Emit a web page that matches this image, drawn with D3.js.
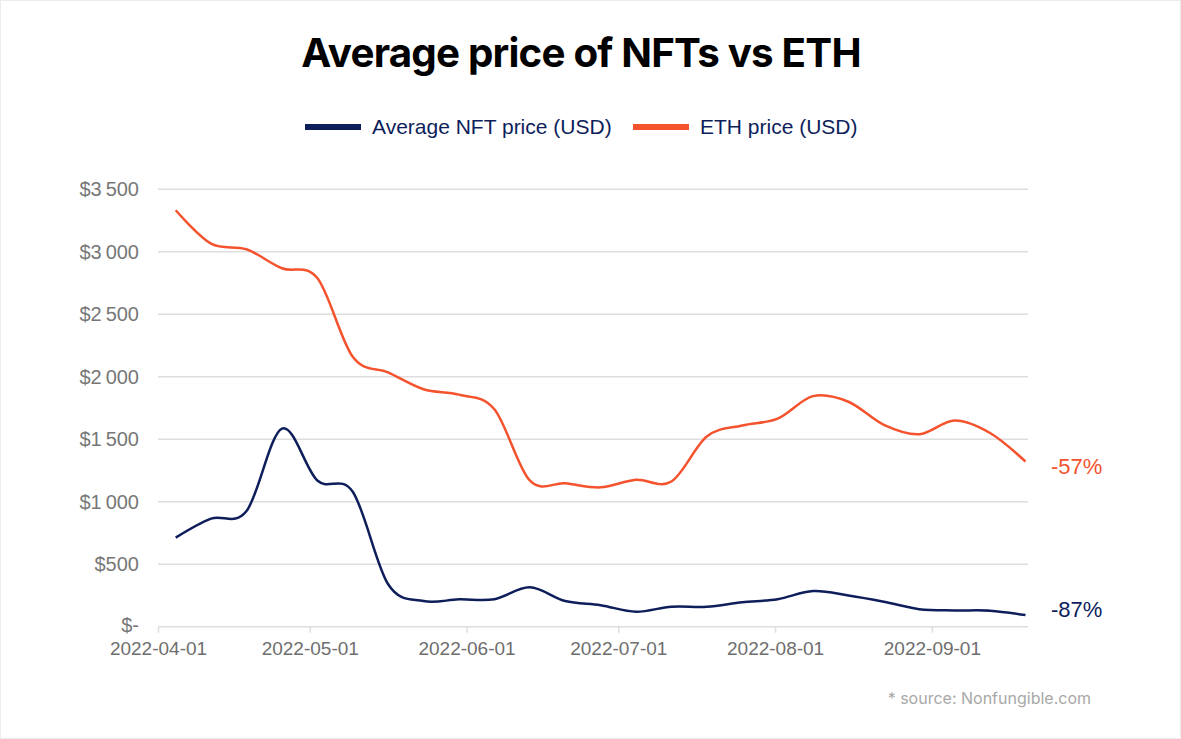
<!DOCTYPE html>
<html>
<head>
<meta charset="utf-8">
<script src="https://cdn.jsdelivr.net/npm/d3@7"></script>
<style>
  body { margin: 0; background: #fff; }
  svg { display: block; font-family: "Liberation Sans", Arial, sans-serif; }
</style>
</head>
<body>
<svg id="chart" width="1181" height="739"></svg>
<script>
// weekly data points
const dates = ["2022-04-04", "2022-04-11", "2022-04-18", "2022-04-25", "2022-05-02", "2022-05-09",
    "2022-05-16", "2022-05-23", "2022-05-30", "2022-06-06", "2022-06-13", "2022-06-20", "2022-06-27",
    "2022-07-04", "2022-07-11", "2022-07-18", "2022-07-25", "2022-08-01", "2022-08-08", "2022-08-15",
    "2022-08-22", "2022-08-29", "2022-09-05", "2022-09-12", "2022-09-19"];
const nftPrice = [713, 865, 925, 1585, 1170, 1080, 340, 205, 219, 220, 315, 205, 172,
    120, 160, 160, 195, 220, 285, 250, 200, 140, 130, 128, 93];
const ethPrice = [3332, 3065, 3020, 2868, 2790, 2160, 2035, 1900, 1857, 1740, 1170, 1147, 1115,
    1175, 1162, 1522, 1610, 1665, 1845, 1800, 1615, 1540, 1650, 1550, 1322];
const seriesNames = ["Average NFT price (USD)", "ETH price (USD)"];
const endLabels = ["-87%", "-57%"];
const yTicks = [0, 500, 1000, 1500, 2000, 2500, 3000, 3500];
const xTicks = ["2022-04-01", "2022-05-01", "2022-06-01", "2022-07-01", "2022-08-01", "2022-09-01"];

const colors = ["#0d1e5b", "#f4532e"];
const parse = d3.utcParse("%Y-%m-%d");
const fmtDate = d3.utcFormat("%Y-%m-%d");

const svg = d3.select("#chart");
const margin = {left: 158, right: 1028, top: 189.3, bottom: 626.7};

// border
svg.append("rect")
    .attr("x", 0.5).attr("y", 0.5)
    .attr("width", 1180).attr("height", 738)
    .attr("fill", "none")
    .attr("stroke", "#ececec");

// x: day slots, points sit in the middle of their day
const x = d3.scaleUtc()
    .domain([parse("2022-04-01"), parse("2022-09-20")])
    .range([margin.left, margin.right]);
const y = d3.scaleLinear()
    .domain([0, 3500])
    .range([margin.bottom, margin.top]);

const fmtMoney = v => v === 0 ? "$-" : "$" + d3.format(",")(v).replace(",", "\u2009");

// gridlines
svg.append("g")
    .selectAll("line")
    .data(yTicks)
    .join("line")
    .attr("x1", margin.left)
    .attr("x2", margin.right)
    .attr("y1", d => y(d))
    .attr("y2", d => y(d))
    .attr("stroke", "#dedede")
    .attr("stroke-width", 1.5);

// y labels
svg.append("g")
    .selectAll("text")
    .data(yTicks)
    .join("text")
    .attr("x", 139)
    .attr("y", d => y(d) - (d === 0 ? 2 : 0))
    .attr("dy", "0.35em")
    .attr("text-anchor", "end")
    .attr("font-size", 20)
    .attr("fill", "#777")
    .text(fmtMoney);

// x axis ticks + labels
const xAxis = d3.axisBottom(x)
    .tickValues(xTicks.map(parse))
    .tickSize(6)
    .tickPadding(9)
    .tickFormat(fmtDate);

const gx = svg.append("g")
    .attr("transform", `translate(0,${margin.bottom})`)
    .call(xAxis);
gx.select(".domain").remove();
gx.selectAll(".tick line").attr("stroke", "#dedede").attr("stroke-width", 1.5);
gx.selectAll(".tick text")
    .attr("font-size", 19)
    .attr("font-family", "'Liberation Sans', Arial, sans-serif")
    .attr("fill", "#6e6e6e");

// lines
const line = d3.line()
    .x((d, i) => x(d3.utcHour.offset(parse(dates[i]), 12)))
    .y(d => y(d))
    .curve(d3.curveCatmullRom.alpha(0));

[ethPrice, nftPrice].forEach(s => {
    const c = s === nftPrice ? colors[0] : colors[1];
    svg.append("path")
        .datum(s)
        .attr("d", line)
        .attr("fill", "none")
        .attr("stroke", c)
        .attr("stroke-width", 2.5)
        .attr("stroke-linejoin", "round");
});

// end labels
[nftPrice, ethPrice].forEach((s, k) => {
    svg.append("text")
        .attr("x", 1051)
        .attr("y", y(s[s.length - 1]) + (k === 0 ? -6 : 5))
        .attr("dy", "0.35em")
        .attr("font-size", 22)
        .attr("fill", colors[k])
        .text(endLabels[k]);
});

// title
svg.append("text")
    .attr("x", 581)
    .attr("y", 67)
    .attr("text-anchor", "middle")
    .attr("font-family", "Inter, sans-serif")
    .attr("font-size", 40.3)
    .attr("font-weight", 700)
    .attr("letter-spacing", -0.8)
    .attr("fill", "#000")
    .text("Average price of NFTs vs ETH");

// legend
const legendX = [305, 633];
const legend = svg.append("g");
seriesNames.forEach((name, k) => {
    legend.append("rect")
        .attr("x", legendX[k])
        .attr("y", 124)
        .attr("width", 56)
        .attr("height", 6)
        .attr("fill", colors[k]);
    legend.append("text")
        .attr("x", legendX[k] + 67)
        .attr("y", 127)
        .attr("dy", "0.35em")
        .attr("font-size", 21)
        .attr("fill", colors[0])
        .text(name);
});

// source note
svg.append("text")
    .attr("x", 1091)
    .attr("y", 698)
    .attr("dy", "0.35em")
    .attr("text-anchor", "end")
    .attr("font-family", "Inter, sans-serif")
    .attr("font-size", 16)
    .attr("fill", "#a8a8a8")
    .text("* source: Nonfungible.com");
</script>
</body>
</html>
